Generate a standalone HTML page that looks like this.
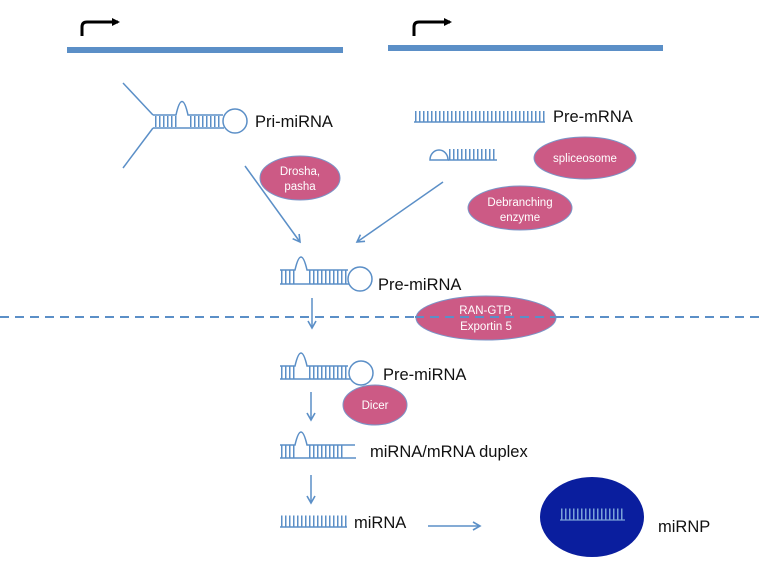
<!DOCTYPE html>
<html><head><style>body{margin:0;background:#fff}svg{display:block}</style></head><body>
<svg width="759" height="570" viewBox="0 0 759 570" xmlns="http://www.w3.org/2000/svg" font-family="Liberation Sans, sans-serif">
<defs>
<marker id="ah" markerWidth="10" markerHeight="10" refX="8" refY="5" orient="auto" markerUnits="userSpaceOnUse"><path d="M1,1 L8,5 L1,9" fill="none" stroke="#5b8fc7" stroke-width="1.6"/></marker>
<marker id="bh" markerWidth="10" markerHeight="10" refX="6" refY="5" orient="auto" markerUnits="userSpaceOnUse"><path d="M0,1 L8,5 L0,9 Z" fill="#000"/></marker>
</defs>
<rect x="67" y="47" width="276" height="6" fill="#5b8fc7"/>
<rect x="388" y="45" width="275" height="6" fill="#5b8fc7"/>
<path d="M82,36 V27 Q82,22 87,22 H118" fill="none" stroke="#000" stroke-width="3" marker-end="url(#bh)"/>
<path d="M414,36 V27 Q414,22 419,22 H450" fill="none" stroke="#000" stroke-width="3" marker-end="url(#bh)"/>

<g stroke="#5b8fc7" fill="none" stroke-width="1.5">
<line x1="123" y1="83" x2="153" y2="115"/><line x1="153" y1="128" x2="123" y2="168"/>
<path d="M153,115 H176 Q182,88 188,115 H223"/>
<line x1="153" y1="128" x2="224" y2="128"/>
<line x1="155" y1="121.5" x2="177" y2="121.5" stroke-width="11" stroke-dasharray="1.5 2.5"/>
<line x1="190" y1="121.5" x2="222" y2="121.5" stroke-width="11" stroke-dasharray="1.5 2.5"/>
<circle cx="235" cy="121" r="12" fill="#fff"/>
<line x1="414" y1="122" x2="545" y2="122"/>
<line x1="415" y1="116.5" x2="545" y2="116.5" stroke-width="11" stroke-dasharray="1.5 2.5"/>
<path d="M430,160 A9,10 0 0 1 448,160 Z"/>
<line x1="448" y1="160" x2="497" y2="160"/>
<line x1="449" y1="154.5" x2="497" y2="154.5" stroke-width="11" stroke-dasharray="1.5 2.5"/>
<line x1="245" y1="166" x2="300" y2="242" marker-end="url(#ah)"/>
<line x1="443" y1="182" x2="357" y2="242" marker-end="url(#ah)"/>
<path d="M280,270 H295 Q301,244 307,270 H348"/><line x1="280" y1="284" x2="350" y2="284"/>
<line x1="281" y1="277" x2="296" y2="277" stroke-width="13" stroke-dasharray="1.5 2.5"/>
<line x1="309" y1="277" x2="347" y2="277" stroke-width="13" stroke-dasharray="1.5 2.5"/>
<circle cx="360" cy="279" r="12" fill="#fff"/>
<line x1="312" y1="298" x2="312" y2="328" marker-end="url(#ah)"/>
<path d="M280,366 H295 Q301,340 307,366 H348"/><line x1="280" y1="379" x2="350" y2="379"/>
<line x1="281" y1="372.5" x2="296" y2="372.5" stroke-width="12" stroke-dasharray="1.5 2.5"/>
<line x1="309" y1="372.5" x2="347" y2="372.5" stroke-width="12" stroke-dasharray="1.5 2.5"/>
<circle cx="361" cy="373" r="12" fill="#fff"/>
<line x1="311" y1="392" x2="311" y2="420" marker-end="url(#ah)"/>
<path d="M280,445 H295 Q301,419 307,445 H355"/><line x1="280" y1="458" x2="356" y2="458"/>
<line x1="281" y1="451.5" x2="296" y2="451.5" stroke-width="12" stroke-dasharray="1.5 2.5"/>
<line x1="309" y1="451.5" x2="343" y2="451.5" stroke-width="12" stroke-dasharray="1.5 2.5"/>
<line x1="311" y1="475" x2="311" y2="503" marker-end="url(#ah)"/>
<line x1="280" y1="527" x2="347" y2="527"/>
<line x1="281" y1="521" x2="347" y2="521" stroke-width="11" stroke-dasharray="1.5 2.5"/>
<line x1="428" y1="526" x2="480" y2="526" marker-end="url(#ah)"/>
</g>
<line x1="0" y1="317" x2="759" y2="317" stroke="#5b8fc7" stroke-width="2" stroke-dasharray="9 6"/>

<g fill="#cc5a85" stroke="#7a95c8" stroke-width="1">
<ellipse cx="300" cy="178" rx="40" ry="22"/>
<ellipse cx="585" cy="158" rx="51" ry="21"/>
<ellipse cx="520" cy="208" rx="52" ry="22"/>
<ellipse cx="486" cy="318" rx="70" ry="22"/>
<ellipse cx="375" cy="405" rx="32" ry="20"/>
</g>
<line x1="415" y1="317" x2="557" y2="317" stroke="#5b8fc7" stroke-width="2" stroke-dasharray="9 6"/>
<g fill="#fff" font-size="11.5" text-anchor="middle">
<text x="300" y="175">Drosha,</text><text x="300" y="190">pasha</text>
<text x="585" y="162">spliceosome</text>
<text x="520" y="206">Debranching</text><text x="520" y="221">enzyme</text>
<text x="486" y="314">RAN-GTP,</text><text x="486" y="330">Exportin 5</text>
<text x="375" y="409">Dicer</text>
</g>
<ellipse cx="592" cy="517" rx="52" ry="40" fill="#0a1e9e"/>
<g stroke="#7aa2d8" stroke-width="1.3">
<line x1="560" y1="520" x2="625" y2="520"/>
<line x1="561" y1="514" x2="625" y2="514" stroke-width="11" stroke-dasharray="1.5 2.5"/>
</g>
<g fill="#111" font-size="16.5">
<text x="255" y="127">Pri-miRNA</text>
<text x="553" y="122">Pre-mRNA</text>
<text x="378" y="290">Pre-miRNA</text>
<text x="383" y="380">Pre-miRNA</text>
<text x="370" y="457">miRNA/mRNA duplex</text>
<text x="354" y="528">miRNA</text>
<text x="658" y="532">miRNP</text>
</g>
</svg>
</body></html>
